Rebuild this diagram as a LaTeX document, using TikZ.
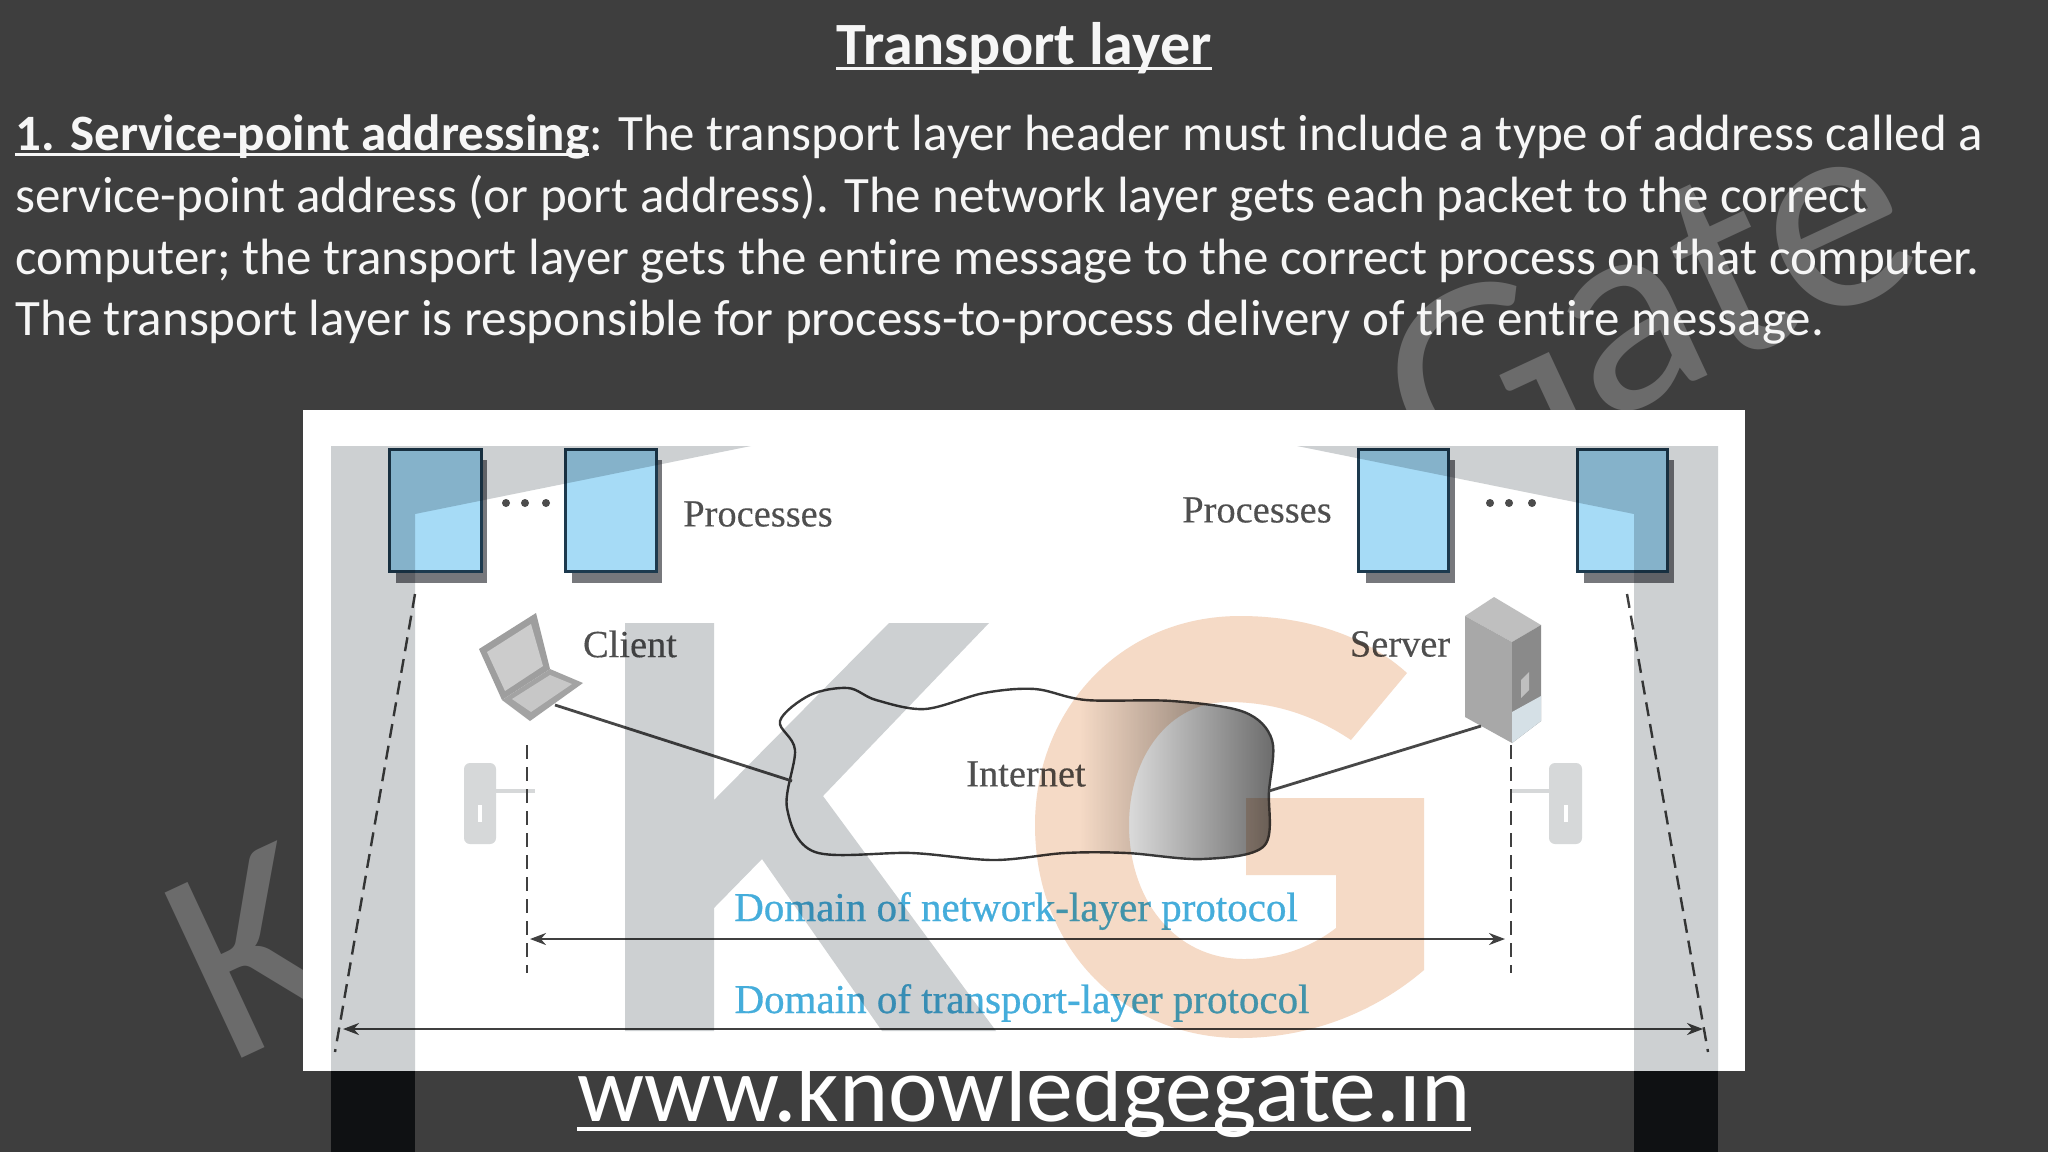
\documentclass[tikz,border=0pt]{standalone}
\usepackage{fontspec}
\setmainfont[Ligatures=NoCommon]{Carlito}
\newfontfamily\figfont[FakeBold=0.25]{Liberation Serif}
\newfontfamily\domfont[FakeBold=0.7]{Liberation Serif}
\usetikzlibrary{arrows.meta}
\definecolor{slidebg}{HTML}{3E3E3E}
\definecolor{wmark}{HTML}{6B6B6B}
\definecolor{slidetext}{HTML}{F6F6F6}
\definecolor{bandgray}{HTML}{CDD0D2}
\definecolor{banddark}{HTML}{0F1113}
\definecolor{gorange}{HTML}{F5DAC6}
\definecolor{boxblue}{HTML}{A6DBF6}
\definecolor{boxline}{HTML}{1D3A4E}
\definecolor{boxshadow}{HTML}{77787C}
\definecolor{domainblue}{HTML}{45ADDB}
\definecolor{figgray}{HTML}{4F4F4F}
\definecolor{plugcol}{HTML}{D6D8D9}
\newcommand\myul[3]{\setbox0\hbox{#3}\rlap{\rule[-#1]{\wd0}{#2}}\box0}
\tikzset{
  bodyline/.style={anchor=base west,inner sep=0pt,text=slidetext,font=\fontsize{25.5}{30}\selectfont},
  figlabel/.style={inner sep=0pt,text=figgray,font=\figfont\fontsize{19.2}{23}\selectfont},
  domainlabel/.style={inner sep=0pt,text=domainblue,font=\domfont\fontsize{20.5}{24}\selectfont},
  procbox/.style={draw=boxline,line width=1.5pt,fill=boxblue},
  procshadow/.style={fill=boxshadow},
  dashline/.style={draw=black!75,line width=1.2pt,dash pattern=on 7pt off 4pt},
  linkline/.style={draw=black!72,line width=1.4pt},
  spanarrow/.style={draw=black!75,line width=1.2pt,{Stealth[length=8pt,width=6pt]}-{Stealth[length=8pt,width=6pt]}},
  dotmark/.style={circle,fill=black!70,inner sep=0pt,minimum size=4pt},
  plugbody/.style={fill=plugcol,rounded corners=3pt},
  plugstem/.style={draw=plugcol,line width=1.8pt}
}
\begin{document}
\begin{tikzpicture}[x=0.5pt,y=-0.5pt]
\useasboundingbox (0,0) rectangle (2048,1152);
\fill[slidebg] (0,0) rectangle (2048,1152);
% slide watermark
\node[anchor=base west,inner sep=0pt,rotate=25,text=wmark,font=\fontsize{142}{150}\selectfont] (wm) at (226,1066) {Knowledge Gate};
% picture
\fill[white] (303,410) rectangle (1745,1071);
% shadows and process boxes
\fill[procshadow] (396,460) rectangle (487,583);
\fill[procshadow] (572,460) rectangle (662,583);
\fill[procshadow] (1366,460) rectangle (1455,583);
\fill[procshadow] (1584,460) rectangle (1674,583);
\draw[procbox] (389,449) rectangle (481,571);
\draw[procbox] (565,449) rectangle (656,571);
\draw[procbox] (1358,449) rectangle (1448,571);
\draw[procbox] (1577,449) rectangle (1667,571);
\node[dotmark] (d1) at (506,503) {};
\node[dotmark] (d2) at (525,503) {};
\node[dotmark] (d3) at (546,503) {};
\node[dotmark] (d4) at (1490,503) {};
\node[dotmark] (d5) at (1509,503) {};
\node[dotmark] (d6) at (1532,503) {};
\node[figlabel] (pl) at (758,514) {Processes};
\node[figlabel] (pr) at (1257,510) {Processes};
\node[figlabel] (cl) at (630,644) {Client};
\node[figlabel] (sv) at (1400,644) {Server};
% laptop
\fill[black!38] (479,649) -- (536,613) -- (550,669) -- (502,700) -- cycle;
\fill[black!20] (487,652) -- (531,624) -- (543,666) -- (505,691) -- cycle;
\fill[black!36] (502,700) -- (550,669) -- (583,683) -- (530,721) -- cycle;
\fill[black!22] (512,699) -- (550,675) -- (572,684) -- (531,712) -- cycle;
% server
\fill[black!25] (1494,597) -- (1541,625) -- (1512,642) -- (1465,616) -- cycle;
\fill[black!34] (1465,616) -- (1512,642) -- (1512,743) -- (1465,717) -- cycle;
\fill[black!46] (1512,642) -- (1541,625) -- (1541,721) -- (1512,743) -- cycle;
\fill[boxblue!70!black!30!white] (1512,712) -- (1541,696) -- (1541,721) -- (1512,743) -- cycle;
\fill[black!25] (1521,680) -- (1529,672) -- (1529,690) -- (1521,698) -- cycle;
% internet cloud
\coordinate (cloudL) at (792,781);
\coordinate (cloudR) at (1269,791);
\begin{scope}
\clip plot[smooth cycle,tension=0.55] coordinates {(780,721) (810,695) (848,688) (876,700) (925,709) (984,693) (1035,689) (1086,700) (1172,701) (1244,712) (1272,740) (1269,791) (1264,846) (1203,859) (1127,853) (1065,853) (994,860) (912,853) (815,852) (787,808) (795,750)};
\shade[left color=white,right color=black!58] (1080,680) rectangle (1275,870);
\end{scope}
\draw[black!78,line width=1.2pt] plot[smooth cycle,tension=0.55] coordinates {(780,721) (810,695) (848,688) (876,700) (925,709) (984,693) (1035,689) (1086,700) (1172,701) (1244,712) (1272,740) (1269,791) (1264,846) (1203,859) (1127,853) (1065,853) (994,860) (912,853) (815,852) (787,808) (795,750)};
\node[figlabel] (net) at (1026,774) {Internet};
% connectors
\coordinate (lapEnd) at (555,705);
\coordinate (srvEnd) at (1481,726);
\draw[linkline] (lapEnd) -- (cloudL);
\draw[linkline] (cloudR) -- (srvEnd);
% plugs
\coordinate (clTop) at (527,745);
\coordinate (clBot) at (527,973);
\coordinate (svTop) at (1511,745);
\coordinate (svBot) at (1511,973);
\coordinate (clTap) at (535,791);
\coordinate (svTap) at (1511,791);
\coordinate (ltTop) at (415,594);
\coordinate (ltBot) at (335,1052);
\coordinate (rtTop) at (1627,594);
\coordinate (rtBot) at (1708,1052);
\coordinate (clPlug) at (496,791);
\coordinate (svPlug) at (1549,791);
\draw[plugstem] (clPlug) -- (clTap);
\draw[plugstem] (svPlug) -- (svTap);
\fill[plugbody] (464,763) rectangle (496,844);
\fill[plugbody] (1549,763) rectangle (1582,844);
\fill[white] (478,805) rectangle (482,822);
\fill[white] (1564,805) rectangle (1568,822);
\draw[dashline] (clTop) -- (clBot);
\draw[dashline] (svTop) -- (svBot);
\draw[dashline] (ltTop) -- (ltBot);
\draw[dashline] (rtTop) -- (rtBot);
% domains
\coordinate (netL) at (530,939);
\coordinate (netR) at (1505,939);
\coordinate (traL) at (343,1029);
\coordinate (traR) at (1703,1029);
\draw[spanarrow] (netL) -- (netR);
\draw[spanarrow] (traL) -- (traR);
\node[domainlabel] (dn) at (1016,911) {Domain of network-layer protocol};
\node[domainlabel] (dt) at (1022,1003) {Domain of transport-layer protocol};
% overlay watermark on picture
\begin{scope}[blend mode=multiply]
\fill[bandgray] (331,446) -- (751,446) -- (415,514) -- (415,1071) -- (331,1071) -- cycle;
\fill[bandgray] (1718,446) -- (1297,446) -- (1634,514) -- (1634,1071) -- (1718,1071) -- cycle;
\fill[bandgray] (625,623) -- (714,623) -- (714,800) -- (889,623) -- (989,623) -- (823,796) -- (996,1031) -- (882,1031) -- (762,859) -- (714,908) -- (714,1031) -- (625,1031) -- cycle;
\fill[gorange] (1407,673) .. controls (1365,635) and (1305,616) .. (1240,616)
  .. controls (1120,616) and (1035,710) .. (1035,825)
  .. controls (1035,950) and (1125,1038) .. (1240,1038)
  .. controls (1310,1038) and (1375,1012) .. (1424,970)
  -- (1424,798) -- (1246,798) -- (1246,875) -- (1336,875) -- (1336,928)
  .. controls (1310,948) and (1278,959) .. (1244,959)
  .. controls (1175,959) and (1129,900) .. (1129,825)
  .. controls (1129,755) and (1170,702) .. (1228,702)
  .. controls (1275,702) and (1315,716) .. (1351,740) -- cycle;
\end{scope}
\fill[banddark] (331,1071) rectangle (415,1152);
\fill[banddark] (1634,1071) rectangle (1718,1152);
% slide text
\node[anchor=base,inner sep=0pt,text=slidetext,font=\bfseries\fontsize{30}{35}\selectfont] (title) at (1024,64) {\myul{3pt}{1.6pt}{Transport layer}};
\node[bodyline] (l1) at (15,150) {\myul{3pt}{1.5pt}{\textbf{1. Service-point addressing}}: The transport layer header must include a type of address called a};
\node[bodyline] (l2) at (15,212) {service-point address (or port address). The network layer gets each packet to the correct};
\node[bodyline] (l3) at (15,274) {computer; the transport layer gets the entire message to the correct process on that computer.};
\node[bodyline] (l4) at (15,335) {The transport layer is responsible for process-to-process delivery of the entire message.};
\node[anchor=base,inner sep=0pt,text=white,font=\fontsize{46.9}{52}\selectfont] (site) at (1024,1121) {\myul{5pt}{2pt}{www.knowledgegate.in}};
\end{tikzpicture}
\end{document}
